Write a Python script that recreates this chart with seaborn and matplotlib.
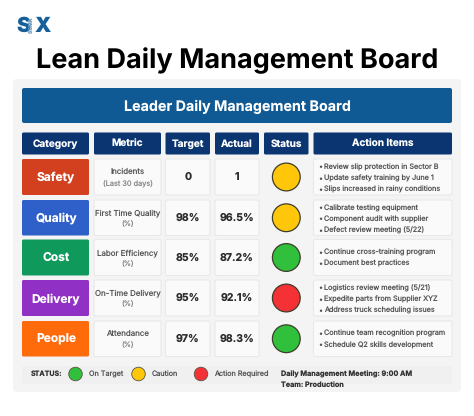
import matplotlib.pyplot as plt
import pandas as pd
import seaborn as sns
from matplotlib.patches import FancyBboxPatch

title = "Lean Daily Management Board"
board_title = "Leader Daily Management Board"
columns = ["Category", "Metric", "Target", "Actual", "Status", "Action Items"]
categories = ["Safety", "Quality", "Cost", "Delivery", "People"]
metrics = ["Incidents", "First Time Quality", "Labor Efficiency", "On-Time Delivery", "Attendance"]
metric_notes = ["(Last 30 days)", "(%)", "(%)", "(%)", "(%)"]
targets = ["0", "98%", "85%", "95%", "97%"]
actuals = ["1", "96.5%", "87.2%", "92.1%", "98.3%"]
statuses = ["Caution", "Caution", "On Target", "Action Required", "On Target"]
actions = [
    ["Review slip protection in Sector B", "Update safety training by June 1", "Slips increased in rainy conditions"],
    ["Calibrate testing equipment", "Component audit with supplier", "Defect review meeting (5/22)"],
    ["Continue cross-training program", "Document best practices"],
    ["Logistics review meeting (5/21)", "Expedite parts from Supplier XYZ", "Address truck scheduling issues"],
    ["Continue team recognition program", "Schedule Q2 skills development"],
]
legend_labels = ["On Target", "Caution", "Action Required"]
meeting_lines = ["Daily Management Meeting: 9:00 AM", "Team: Production"]

# layout, in pixels of the 474x416 picture
cat_colors = ["#d2401f", "#2f5fc8", "#0f9a5c", "#9030c4", "#ff6a0a"]
status_colors = {"On Target": "#30c03c", "Caution": "#ffc60a", "Action Required": "#f43236"}
col_x = [(22, 89), (94, 161), (165.5, 210), (215, 259), (264, 308.5), (313.5, 452)]
row_y = [(159, 195), (200, 235.5), (239.5, 275.5), (280, 316), (321, 356.5)]
status_x = 286.3
legend_x = [75.5, 138.5, 201]
legend_y = 374

sns.set_theme(style="white")
plt.rcParams["font.family"] = ["Inter", "DejaVu Sans"]
plt.rcParams["text.hinting"] = "no_hinting"

fig = plt.figure(figsize=(4.74, 4.16), dpi=100)
ax = fig.add_axes([0, 0, 1, 1])
ax.set_xlim(0, 474)
ax.set_ylim(416, 0)
ax.axis("off")


def box(x0, y0, x1, y1, color, edge="none", r=1.5, z=2):
    ax.add_patch(FancyBboxPatch((x0 + r, y0 + r), x1 - x0 - 2 * r, y1 - y0 - 2 * r,
                                boxstyle=f"round,pad={r},rounding_size={r}",
                                fc=color, ec=edge, lw=0.8, zorder=z))


def label(x, y, s, size, color="#2b2b2b", weight="normal", ha="center"):
    # small nudge up, center_baseline sits a bit low here
    ax.text(x, y - 0.7, s, fontsize=size, color=color, fontweight=weight, ha=ha, va="center_baseline", zorder=5)


# logo
label(16, 25, "S", 15, "#17609a", "black", ha="left")
label(35, 25, "X", 15, "#17609a", "black", ha="left")
ax.text(32, 25, "SIGMA", fontsize=3.5, color="#6f9cc0", fontweight="bold", rotation=90,
        ha="center", va="center", zorder=5)

label(237, 58, title, 19.5, "#000000", "bold")

box(13, 79, 461, 392, "#f4f4f5", r=4, z=1)
box(22, 88, 452, 123, "#0f5a94", r=2)
label(237, 106, board_title, 10.3, "#ffffff", "bold")

for (x0, x1), name in zip(col_x, columns):
    box(x0, 132.5, x1, 154.5, "#0b3570")
    label((x0 + x1) / 2, 143.5, name, 7.2, "#ffffff", "bold")

for i, (y0, y1) in enumerate(row_y):
    mid = (y0 + y1) / 2
    box(col_x[0][0], y0, col_x[0][1], y1, cat_colors[i])
    label(sum(col_x[0]) / 2 + 0.5, mid, categories[i], 8.6, "#ffffff", "bold")
    for c in (1, 2, 3, 5):
        box(col_x[c][0], y0, col_x[c][1], y1, "#fafafa", edge="#e9e9e9")
    label(sum(col_x[1]) / 2, mid - 5, metrics[i], 5.7, "#555555")
    label(sum(col_x[1]) / 2, mid + 6, metric_notes[i], 5.3, "#8a8a8a")
    label(sum(col_x[2]) / 2, mid, targets[i], 7.6, "#2b2b2b", "bold")
    label(sum(col_x[3]) / 2, mid, actuals[i], 7.6, "#2b2b2b", "bold")
    items = actions[i]
    start = mid - 9.7 if len(items) == 3 else mid - 5
    for j, item in enumerate(items):
        label(318.5, start + j * 11.2, "\u2022", 5.2, "#555555", ha="left")
        label(324, start + j * 11.2, item, 5.2, "#555555", ha="left")

# status lights
board = pd.DataFrame({"x": status_x, "y": [sum(r) / 2 for r in row_y], "status": statuses})
sns.scatterplot(data=board, x="x", y="y", hue="status", palette=status_colors, s=400,
                edgecolor="#3d3d2a", linewidth=0.9, legend=False, ax=ax, zorder=4)

# footer strip
box(22, 366, 452, 384, "#f0f0f1", r=2)
label(31, 374, "STATUS:", 5.1, "#333333", "bold", ha="left")
key = pd.DataFrame({"x": legend_x, "y": legend_y, "status": legend_labels})
sns.scatterplot(data=key, x="x", y="y", hue="status", palette=status_colors, s=95,
                edgecolor="#555544", linewidth=0.6, legend=False, ax=ax, zorder=4)
for x, name in zip(legend_x, legend_labels):
    label(x + 13.5, legend_y, name, 5.2, "#555555", ha="left")
label(281, 374, meeting_lines[0], 5.2, "#333333", "bold", ha="left")
label(281, 385, meeting_lines[1], 5.2, "#333333", "bold", ha="left")

ax.set_xlim(0, 474)
ax.set_ylim(416, 0)
ax.set_xlabel("")
ax.set_ylabel("")
fig.savefig("out.png", dpi=100)
